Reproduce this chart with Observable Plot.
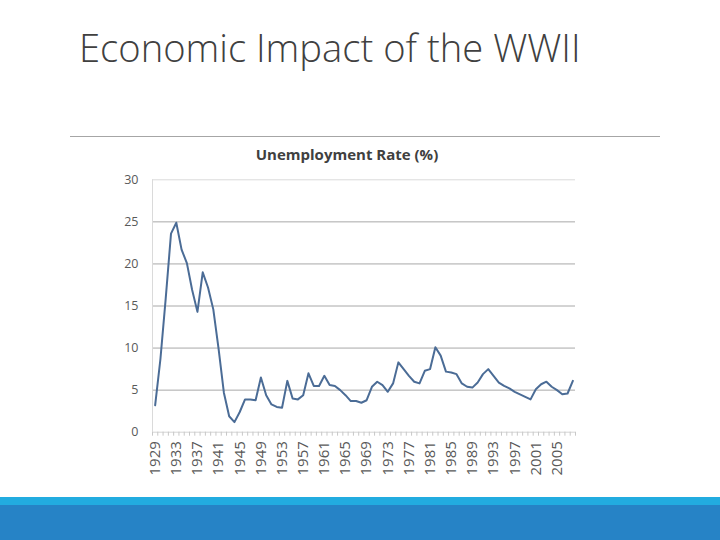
<!DOCTYPE html>
<html><head><meta charset="utf-8">
<script src="https://cdn.jsdelivr.net/npm/d3@7"></script>
<script src="https://cdn.jsdelivr.net/npm/@observablehq/plot@0.6"></script>
<style>
body{margin:0;background:#fff;}
#slide{position:relative;width:720px;height:540px;overflow:hidden;background:#fff;font-family:"Open Sans",sans-serif;}
#title{position:absolute;left:79px;top:25px;font-size:38.2px;font-weight:300;color:#404040;white-space:nowrap;line-height:1.2;}
#rule{position:absolute;left:70px;top:136px;width:590px;height:1px;background:#a6a6a6;}
#ctitle{position:absolute;left:247px;width:200px;top:144px;text-align:center;font-weight:700;font-size:15px;color:#404040;white-space:nowrap;}
#chart{position:absolute;left:0;top:0;}
#band1{position:absolute;left:0;top:497px;width:720px;height:8px;background:#22ace0;}
#band2{position:absolute;left:0;top:505px;width:720px;height:35px;background:#2683c6;}
</style></head>
<body>
<div id="slide">
  <div id="title">Economic Impact of the WWII</div>
  <div id="rule"></div>
  <div id="chart"></div>
  <div id="ctitle">Unemployment Rate (%)</div>
  <div id="band1"></div>
  <div id="band2"></div>
</div>
<script>
const years = [1929,1930,1931,1932,1933,1934,1935,1936,1937,1938,1939,1940,1941,1942,1943,1944,1945,1946,1947,1948,
  1949,1950,1951,1952,1953,1954,1955,1956,1957,1958,1959,1960,1961,1962,1963,1964,1965,1966,1967,1968,
  1969,1970,1971,1972,1973,1974,1975,1976,1977,1978,1979,1980,1981,1982,1983,1984,1985,1986,1987,1988,
  1989,1990,1991,1992,1993,1994,1995,1996,1997,1998,1999,2000,2001,2002,2003,2004,2005,2006,2007,2008];
const rates = [3.2,8.7,15.9,23.6,24.9,21.7,20.1,16.9,14.3,19.0,17.2,14.6,9.9,4.7,1.9,1.2,2.4,3.9,3.9,3.8,
  6.5,4.4,3.3,3.0,2.9,6.1,4.0,3.9,4.4,7.0,5.5,5.5,6.7,5.6,5.5,5.0,4.4,3.7,3.7,3.5,
  3.8,5.4,6.0,5.6,4.8,5.8,8.3,7.5,6.7,6.0,5.8,7.3,7.5,10.1,9.1,7.2,7.1,6.9,5.8,5.4,
  5.3,5.9,6.9,7.5,6.7,5.9,5.5,5.2,4.8,4.5,4.2,3.9,5.1,5.7,6.0,5.4,5.0,4.5,4.6,6.1];
const yTicks = [0,5,10,15,20,25,30];
const yearLabels = [1929,1933,1937,1941,1945,1949,1953,1957,1961,1965,1969,1973,1977,1981,1985,1989,1993,1997,2001,2005];

const data = years.map((y, i) => ({year: y, rate: rates[i]}));
const bounds = years.map(y => y - 0.5).concat([years[years.length - 1] + 0.5]);
const x0 = bounds[0], x1 = bounds[bounds.length - 1];

const chart = Plot.plot({
  width: 720,
  height: 540,
  marginLeft: 152,
  marginRight: 145,
  marginTop: 179.3,
  marginBottom: 108.3,
  style: {fontFamily: "'Open Sans', sans-serif", fontSize: "12px", color: "#595959", background: "transparent"},
  x: {type: "linear", domain: [x0, x1], label: null},
  y: {domain: [0, 30], label: null},
  marks: [
    Plot.ruleY(yTicks.filter(v => v > 0 && v < 30), {stroke: "#a8a8a8", strokeWidth: 1}),
    Plot.ruleY([30], {stroke: "#dadada", strokeWidth: 1}),
    Plot.ruleY([0], {stroke: "#d4d4d4", strokeWidth: 1}),
    Plot.ruleX([x0], {stroke: "#dadada", strokeWidth: 1}),
    Plot.axisY({ticks: yTicks, tickSize: 0, tickPadding: 14, fill: "#595959", fontSize: 12.5, label: null}),
    Plot.axisX({ticks: bounds, tickSize: 4, tickFormat: () => "", stroke: "#c8c8c8", label: null}),
    Plot.axisX({ticks: yearLabels, tickSize: 0, tickPadding: 13, dy: -4, rotate: -90, textAnchor: "end", lineAnchor: "middle", tickFormat: d => String(d), fill: "#595959", fontSize: 15, label: null}),
    Plot.line(data, {x: "year", y: "rate", stroke: "#4b6c96", strokeWidth: 2, strokeLinejoin: "round"})
  ]
});
document.getElementById("chart").appendChild(chart);
</script>
</body></html>
